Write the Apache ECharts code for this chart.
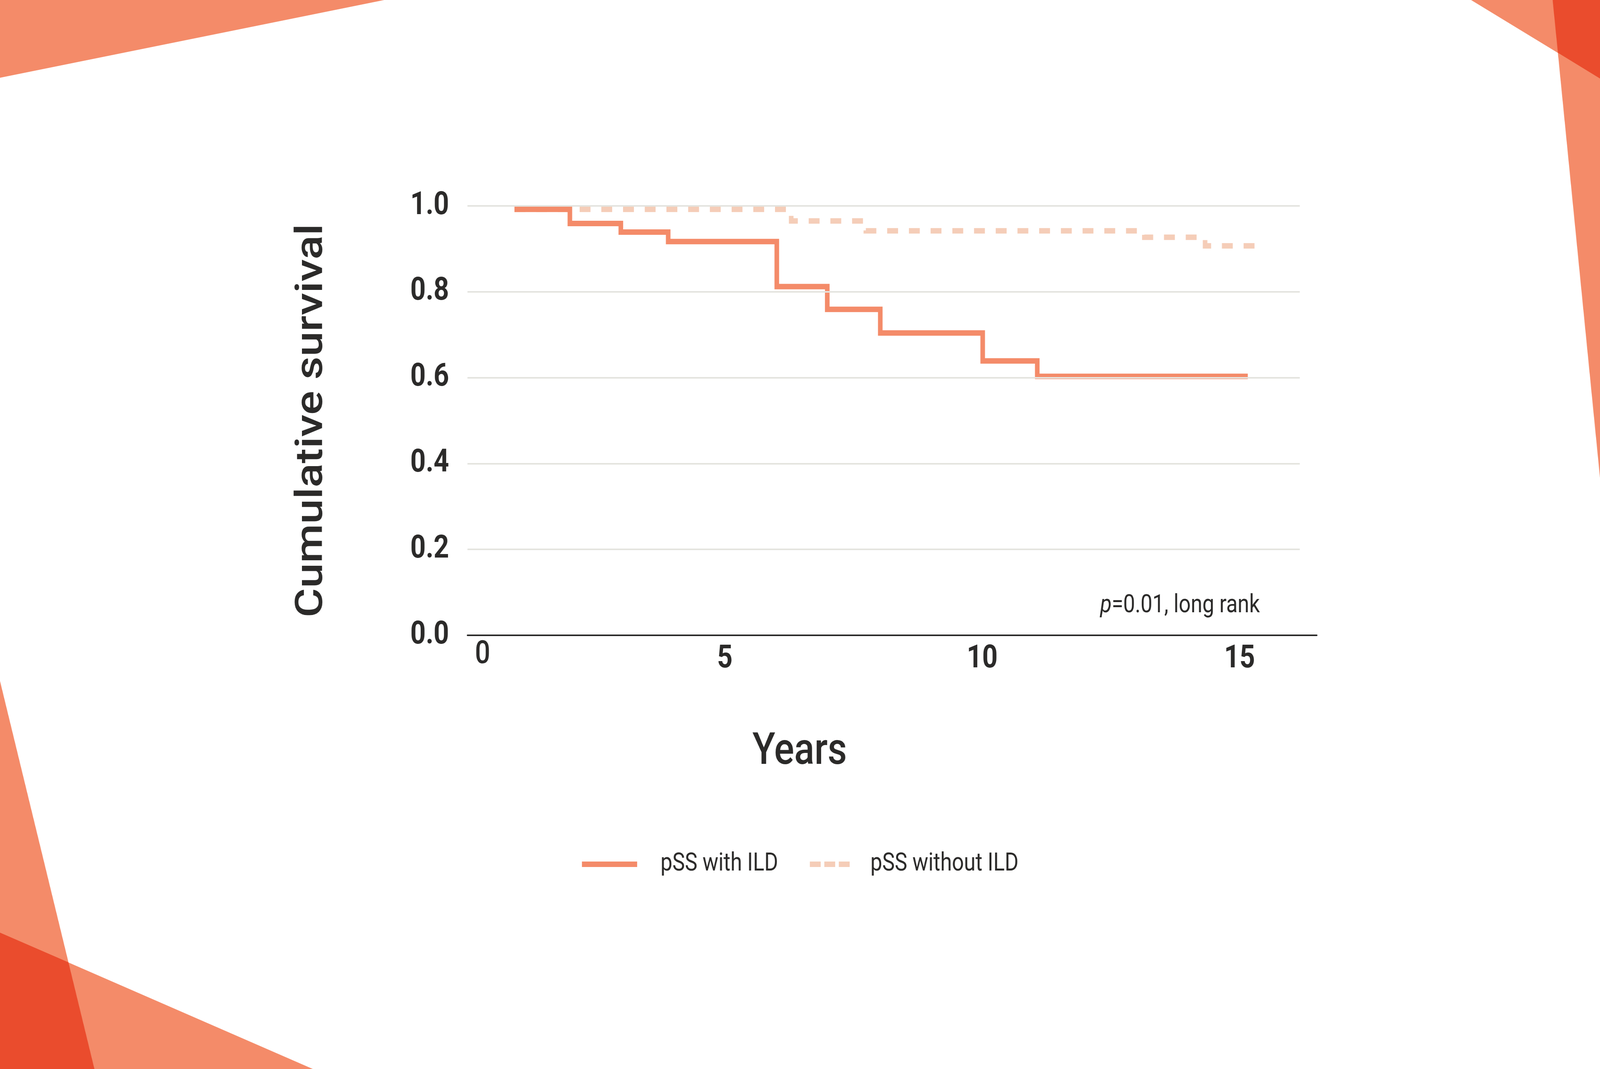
<!DOCTYPE html>
<html>
<head>
<meta charset="utf-8">
<script src="https://cdn.jsdelivr.net/npm/echarts@6/dist/echarts.min.js"></script>
<style>
html,body{margin:0;padding:0;background:#ffffff;overflow:hidden;}
#wrap{position:absolute;left:0;top:0;width:100vw;height:100vh;overflow:hidden;}
#c{position:absolute;left:0;top:0;width:4864px;height:2736px;transform-origin:0 0;}
</style>
</head>
<body>
<div id="wrap"><div id="c"></div></div>
<script>
// ---- data ----
const seriesNames = ['pSS with ILD', 'pSS without ILD'];
const ildTimes = [0.914, 1.99, 2.98, 3.90, 6.01, 6.99, 8.02, 10.01, 11.07, 15.16];
const ildSurvival = [0.992, 0.959, 0.939, 0.917, 0.812, 0.759, 0.704, 0.639, 0.603, 0.603];
const noIldTimes = [0.914, 6.29, 7.74, 13.15, 14.33, 15.37];
const noIldSurvival = [0.992, 0.965, 0.942, 0.927, 0.907, 0.907];
const yGridValues = [0.2, 0.4, 0.6, 0.8, 1.0];
const xAxisTitle = 'Years';
const yAxisTitle = 'Cumulative survival';
const annotationItalic = 'p';
const annotationRest = '=0.01, long rank';

// ---- styling / layout (page designed at 4864 x 2736, fitted to the real window) ----
const TEXT = '#2b2a29';
const CORAL = '#F48B69';
const PEACH = '#F5CDB8';
const RED = '#EA4C2D';
const FONT = 'Roboto, "Liberation Sans", sans-serif';
const GRID_END_X = 16.17;

const el = document.getElementById('c');
const W = window.innerWidth || 4864;
const H = window.innerHeight || 2736;
const sx = W / 4864, sy = H / 2736;
if (Math.abs(sx - 1) > 1e-3 || Math.abs(sy - 1) > 1e-3) {
  el.style.transform = 'scale(' + sx + ',' + sy + ')';
}

const chart = echarts.init(el, null, {renderer: 'canvas', width: 4864, height: 2736});

const option = {
  animation: false,
  backgroundColor: '#ffffff',
  textStyle: {fontFamily: FONT, color: TEXT},
  grid: {left: 1421, top: 527, width: 2582, height: 1099, containLabel: false},
  xAxis: {
    type: 'value', min: 0, max: 16.5, interval: 5,
    axisLine: {show: true, onZero: false, lineStyle: {color: TEXT, width: 4}},
    axisTick: {show: false},
    splitLine: {show: false},
    axisLabel: {
      showMaxLabel: false, margin: 20, fontSize: 82, fontWeight: 'bold', color: TEXT, fontFamily: FONT,
      formatter: function (v) { return v === 0 ? '{z|0}' : String(v); },
      rich: {z: {padding: [0, 0, 0, 92], fontSize: 82, fontWeight: 500, color: TEXT, fontFamily: FONT, lineHeight: 60}}
    },
    name: xAxisTitle, nameLocation: 'middle', nameGap: 243,
    nameTextStyle: {fontSize: 114, fontWeight: 500, color: TEXT, fontFamily: FONT, padding: [0, 562, 0, 0]}
  },
  yAxis: {
    type: 'value', min: 0, max: 1, interval: 0.2,
    axisLine: {show: false}, axisTick: {show: false}, splitLine: {show: false},
    axisLabel: {margin: 56, fontSize: 82, fontWeight: 'bold', color: TEXT, fontFamily: FONT,
      formatter: function (v) { return v.toFixed(1); }},
    name: yAxisTitle, nameLocation: 'middle', nameRotate: 90, nameGap: 413,
    nameTextStyle: {fontSize: 115, fontWeight: 500, color: TEXT, fontFamily: FONT}
  },
  legend: [
    {
      data: [{name: seriesNames[0], icon: 'rect'}],
      left: 1769, top: 2180, itemWidth: 168, itemHeight: 14, padding: 0,
      textStyle: {fontSize: 64, color: TEXT, fontFamily: FONT, padding: [0, 0, 0, 66]},
      selectedMode: false
    },
    {
      data: [{name: seriesNames[1], icon: 'path://M0,0h33v14h-33z M44,0h33v14h-33z M88,0h33v14h-33z'}],
      left: 2462, top: 2180, itemWidth: 121, itemHeight: 14, padding: 0,
      textStyle: {fontSize: 64, color: TEXT, fontFamily: FONT, padding: [0, 0, 0, 58]},
      selectedMode: false
    }
  ],
  graphic: [
    {type: 'polygon', silent: true, z: -10, shape: {points: [[0, 0], [1168, 0], [0, 199]]}, style: {fill: CORAL}},
    {type: 'polygon', silent: true, z: -10, shape: {points: [[4472, 0], [4864, 0], [4864, 201]]}, style: {fill: CORAL}},
    {type: 'polygon', silent: true, z: -10, shape: {points: [[4720, 0], [4864, 0], [4864, 1223]]}, style: {fill: CORAL}},
    {type: 'polygon', silent: true, z: -9, shape: {points: [[4720, 0], [4864, 0], [4864, 201], [4736, 135]]}, style: {fill: RED}},
    {type: 'polygon', silent: true, z: -10, shape: {points: [[0, 1743], [287, 2736], [0, 2736]]}, style: {fill: CORAL}},
    {type: 'polygon', silent: true, z: -10, shape: {points: [[0, 2387], [951, 2736], [0, 2736]]}, style: {fill: CORAL}},
    {type: 'polygon', silent: true, z: -9, shape: {points: [[0, 2387], [208, 2463], [287, 2736], [0, 2736]]}, style: {fill: RED}},
    {
      type: 'text', silent: true, x: 3830, y: 1551, z: 10,
      style: {
        text: '{i|' + annotationItalic + '}{r|' + annotationRest + '}',
        align: 'right', verticalAlign: 'middle',
        rich: {
          i: {fontSize: 64, fontStyle: 'italic', fill: TEXT, fontFamily: FONT},
          r: {fontSize: 64, fill: TEXT, fontFamily: FONT}
        }
      }
    }
  ],
  series: [
    {
      type: 'line', name: '_grid', data: [], z: 1, silent: true, symbol: 'none',
      markLine: {
        silent: true, symbol: ['none', 'none'], label: {show: false}, animation: false,
        lineStyle: {color: '#e4e4df', width: 4, type: 'solid'},
        emphasis: {disabled: true},
        data: yGridValues.map(function (v) { return [{coord: [0, v]}, {coord: [GRID_END_X, v]}]; })
      }
    },
    {
      type: 'line', name: seriesNames[1], step: 'end', symbol: 'none', z: 3,
      data: noIldTimes.map(function (t, i) { return [t, noIldSurvival[i]]; }),
      lineStyle: {color: PEACH, width: 14, type: [33, 33], cap: 'butt', join: 'miter'},
      itemStyle: {color: PEACH},
      emphasis: {disabled: true}
    },
    {
      type: 'line', name: seriesNames[0], step: 'end', symbol: 'none', z: 4,
      data: ildTimes.map(function (t, i) { return [t, ildSurvival[i]]; }),
      lineStyle: {color: CORAL, width: 14, cap: 'butt', join: 'miter'},
      itemStyle: {color: CORAL},
      emphasis: {disabled: true}
    }
  ]
};
chart.setOption(option);
</script>
</body>
</html>
